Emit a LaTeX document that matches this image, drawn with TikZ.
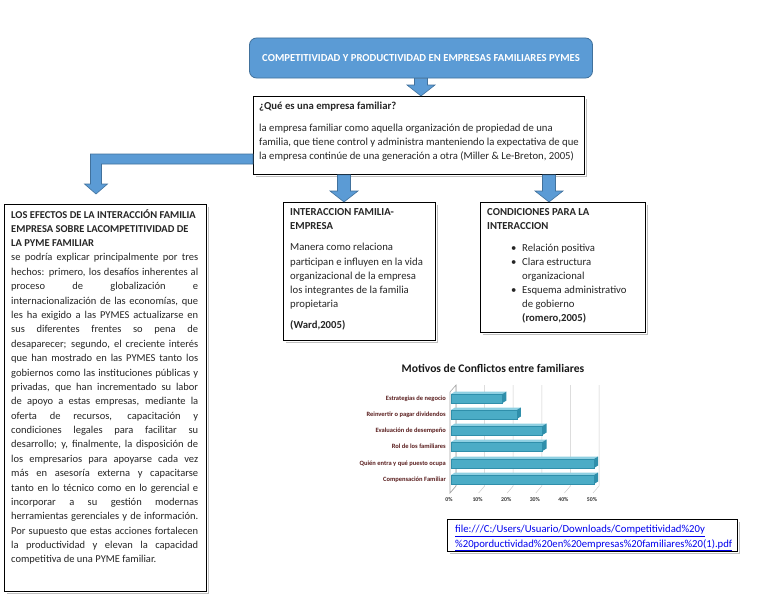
\documentclass[tikz,border=0pt]{standalone}
\usepackage{fontspec}
\setmainfont{Carlito}
\usetikzlibrary{calc}
\definecolor{tblue}{HTML}{5B9BD5}
\definecolor{tbord}{HTML}{41719C}
\definecolor{barc}{HTML}{4BACC6}
\definecolor{bard}{HTML}{2F8FAB}
\definecolor{barl}{HTML}{8FD0E2}
\definecolor{labc}{HTML}{5A1E1E}
\definecolor{linkc}{HTML}{0000EE}
\newcommand\jl[1]{\makebox[187pt][s]{#1}}
\newcommand\vblockarrow[2]{%
  \draw[blockarrow] let \p1=(#1), \p2=(#2) in
    (\x1-6.5pt,\y1) -- (\x1+6.5pt,\y1) -- (\x1+6.5pt,\y2+11pt) -- (\x1+14pt,\y2+11pt)
    -- (\x1,\y2) -- (\x1-14pt,\y2+11pt) -- (\x1-6.5pt,\y2+11pt) -- cycle;}
\tikzset{
  box/.style={draw=black, line width=0.9pt, fill=white, inner sep=0pt, anchor=north west},
  shadowline/.style={draw=black!25, line width=1.4pt},
  txt/.style={anchor=north west, inner sep=0pt, align=left, text=black!85,
    font=\fontsize{10.7}{14.4}\selectfont},
  blockarrow/.style={fill=tblue, draw=tbord, line width=0.6pt},
  titlebox/.style={rounded corners=7pt, fill=tblue, draw=tbord, line width=0.8pt,
    text=white, font=\bfseries\fontsize{10.7}{12}\selectfont, inner sep=0pt},
  catlab/.style={anchor=east, inner sep=0pt, text=labc, font=\bfseries\fontsize{6.5}{7}\selectfont},
  axlab/.style={anchor=center, inner sep=0pt, text=black!80, font=\bfseries\fontsize{5.8}{6}\selectfont},
}
\begin{document}
\begin{tikzpicture}[x=1pt,y=-1pt]
\path[use as bounding box, fill=white] (0,0) rectangle (768,594);

% title
\node[titlebox, minimum width=343pt, minimum height=40pt] (title) at (421,58)
  {COMPETITIVIDAD Y PRODUCTIVIDAD EN EMPRESAS FAMILIARES PYMES};

% question box
\node[box, minimum width=331pt, minimum height=78pt] (q) at (253,96) {};
\draw[shadowline] ($(q.north east)+(1.5,3)$) -- ($(q.south east)+(1.5,1.5)$) -- ($(q.south west)+(3,1.5)$);
\node[txt] (qt) at (259,101.5) {\textbf{¿Qué es una empresa familiar?}\\[7.4pt]
  la empresa familiar como aquella organización de propiedad de una\\
  familia, que tiene control y administra manteniendo la expectativa de que\\
  la empresa continúe de una generación a otra (Miller \& Le-Breton, 2005)};

% left box
\node[box, minimum width=202pt, minimum height=387pt] (l) at (4,204) {};
\draw[shadowline] ($(l.north east)+(1.5,3)$) -- ($(l.south east)+(1.5,1.5)$) -- ($(l.south west)+(3,1.5)$);
\node[txt, font=\bfseries\fontsize{10.5}{14}\selectfont] (lt) at (11,209.5)
  {LOS EFECTOS DE LA INTERACCIÓN FAMILIA\\EMPRESA SOBRE LACOMPETITIVIDAD DE\\LA PYME FAMILIAR};
\node[txt, font=\fontsize{10.5}{14.38}\selectfont] (lb) at (11,253.5) {%
\jl{se podría explicar principalmente por tres}\\
\jl{hechos: primero, los desafíos inherentes al}\\
\jl{proceso de globalización e}\\
\jl{internacionalización de las economías, que}\\
\jl{les ha exigido a las PYMES actualizarse en}\\
\jl{sus diferentes frentes so pena de}\\
\jl{desaparecer; segundo, el creciente interés}\\
\jl{que han mostrado en las PYMES tanto los}\\
\jl{gobiernos como las instituciones públicas y}\\
\jl{privadas, que han incrementado su labor}\\
\jl{de apoyo a estas empresas, mediante la}\\
\jl{oferta de recursos, capacitación y}\\
\jl{condiciones legales para facilitar su}\\
\jl{desarrollo; y, finalmente, la disposición de}\\
\jl{los empresarios para apoyarse cada vez}\\
\jl{más en asesoría externa y capacitarse}\\
\jl{tanto en lo técnico como en lo gerencial e}\\
\jl{incorporar a su gestión modernas}\\
\jl{herramientas gerenciales y de información.}\\
\jl{Por supuesto que estas acciones fortalecen}\\
\jl{la productividad y elevan la capacidad}\\
competitiva de una PYME familiar.};

% middle box
\node[box, minimum width=152pt, minimum height=138pt] (m) at (283,202) {};
\draw[shadowline] ($(m.north east)+(1.5,3)$) -- ($(m.south east)+(1.5,1.5)$) -- ($(m.south west)+(3,1.5)$);
\node[txt, font=\fontsize{10.7}{14.2}\selectfont] (mt) at (290,208.5) {\textbf{INTERACCION FAMILIA-}\\\textbf{EMPRESA}\\[6.8pt]
  Manera como relaciona\\participan e influyen en la vida\\organizacional de la empresa\\
  los integrantes de la familia\\propietaria\\[6.8pt]\textbf{(Ward,2005)}};

% right box
\node[box, minimum width=165pt, minimum height=130pt] (r) at (480,202) {};
\draw[shadowline] ($(r.north east)+(1.5,3)$) -- ($(r.south east)+(1.5,1.5)$) -- ($(r.south west)+(3,1.5)$);
\node[txt, font=\fontsize{10.7}{14.2}\selectfont] (rt) at (487,208.5) {\textbf{CONDICIONES PARA LA}\\\textbf{INTERACCION}\\[7pt]
  \hspace*{24pt}\makebox[11pt][l]{\textbullet}Relación positiva\\
  \hspace*{24pt}\makebox[11pt][l]{\textbullet}Clara estructura\\
  \hspace*{35pt}organizacional\\
  \hspace*{24pt}\makebox[11pt][l]{\textbullet}Esquema administrativo\\
  \hspace*{35pt}de gobierno\\[-1pt]
  \hspace*{35pt}\textbf{(romero,2005)}};

% arrows
\vblockarrow{title.south}{q.north}
\vblockarrow{$(q.south west)+(91,0)$}{m.north}
\vblockarrow{$(q.south west)+(296,0)$}{r.north}
\draw[blockarrow] let \p1=($(q.north west)+(0,63)$), \p2=($(l.north west)+(92,-10)$) in
  (\x1,\y1+5pt) -- (\x2-5.5pt,\y1+5pt) -- (\x2-5.5pt,\y2+10pt) -- (\x2-11.5pt,\y2+10pt)
  -- (\x2,\y2) -- (\x2+11.5pt,\y2+10pt) -- (\x2+5.5pt,\y2+10pt) -- (\x2+5.5pt,\y1-5pt)
  -- (\x1,\y1-5pt) -- cycle;

% chart
\node[inner sep=0pt, font=\bfseries\fontsize{11.6}{12}\selectfont, text=black!90] (ct) at (493,368)
  {Motivos de Conflictos entre familiares};
\foreach \k/\t in {0/0\%,1/10\%,2/20\%,3/30\%,4/40\%,5/50\%}{
  \draw[black!20, line width=0.5pt] (452+28.6*\k+4,385) -- (452+28.6*\k+4,486) -- (452+28.6*\k-2,493);
  \node[axlab] (ax\k) at (452+28.6*\k-3,500) {\t};
}
\draw[black!35, line width=0.6pt] (456,385) -- (456,486) -- (450,493) -- (450,392) -- cycle;
\foreach \i/\yt/\v/\lab in {1/394/18/Estrategias de negocio,
                            2/410/23/Reinvertir o pagar dividendos,
                            3/426/32/Evaluación de desempeño,
                            4/442/32/Rol de los familiares,
                            5/459/50/Quién entra y qué puesto ocupa,
                            6/475/50/Compensación Familiar}{
  \fill[barl] (451,\yt) -- (455,\yt-2.5) -- (451+2.86*\v+4,\yt-2.5) -- (451+2.86*\v,\yt) -- cycle;
  \fill[bard] (451+2.86*\v,\yt) -- (451+2.86*\v+4,\yt-2.5) -- (451+2.86*\v+4,\yt+6.5) -- (451+2.86*\v,\yt+9) -- cycle;
  \draw[bard, fill=barc, line width=0.5pt] (451,\yt) rectangle (451+2.86*\v,\yt+9);
  \node[catlab] (cl\i) at (446,\yt+4.5) {\lab};
}

% link box
\node[box, minimum width=290pt, minimum height=32pt] (lk) at (447,519) {};
\draw[shadowline] ($(lk.north east)+(1.5,3)$) -- ($(lk.south east)+(1.5,1.5)$) -- ($(lk.south west)+(3,1.5)$);
\node[txt, text=linkc] (lkt) at (455,525)
  {\underline{file:///C:/Users/Usuario/Downloads/Competitividad\%20y}\\[0.4pt]
   \underline{\%20porductividad\%20en\%20empresas\%20familiares\%20(1).pdf}};
\end{tikzpicture}
\end{document}
